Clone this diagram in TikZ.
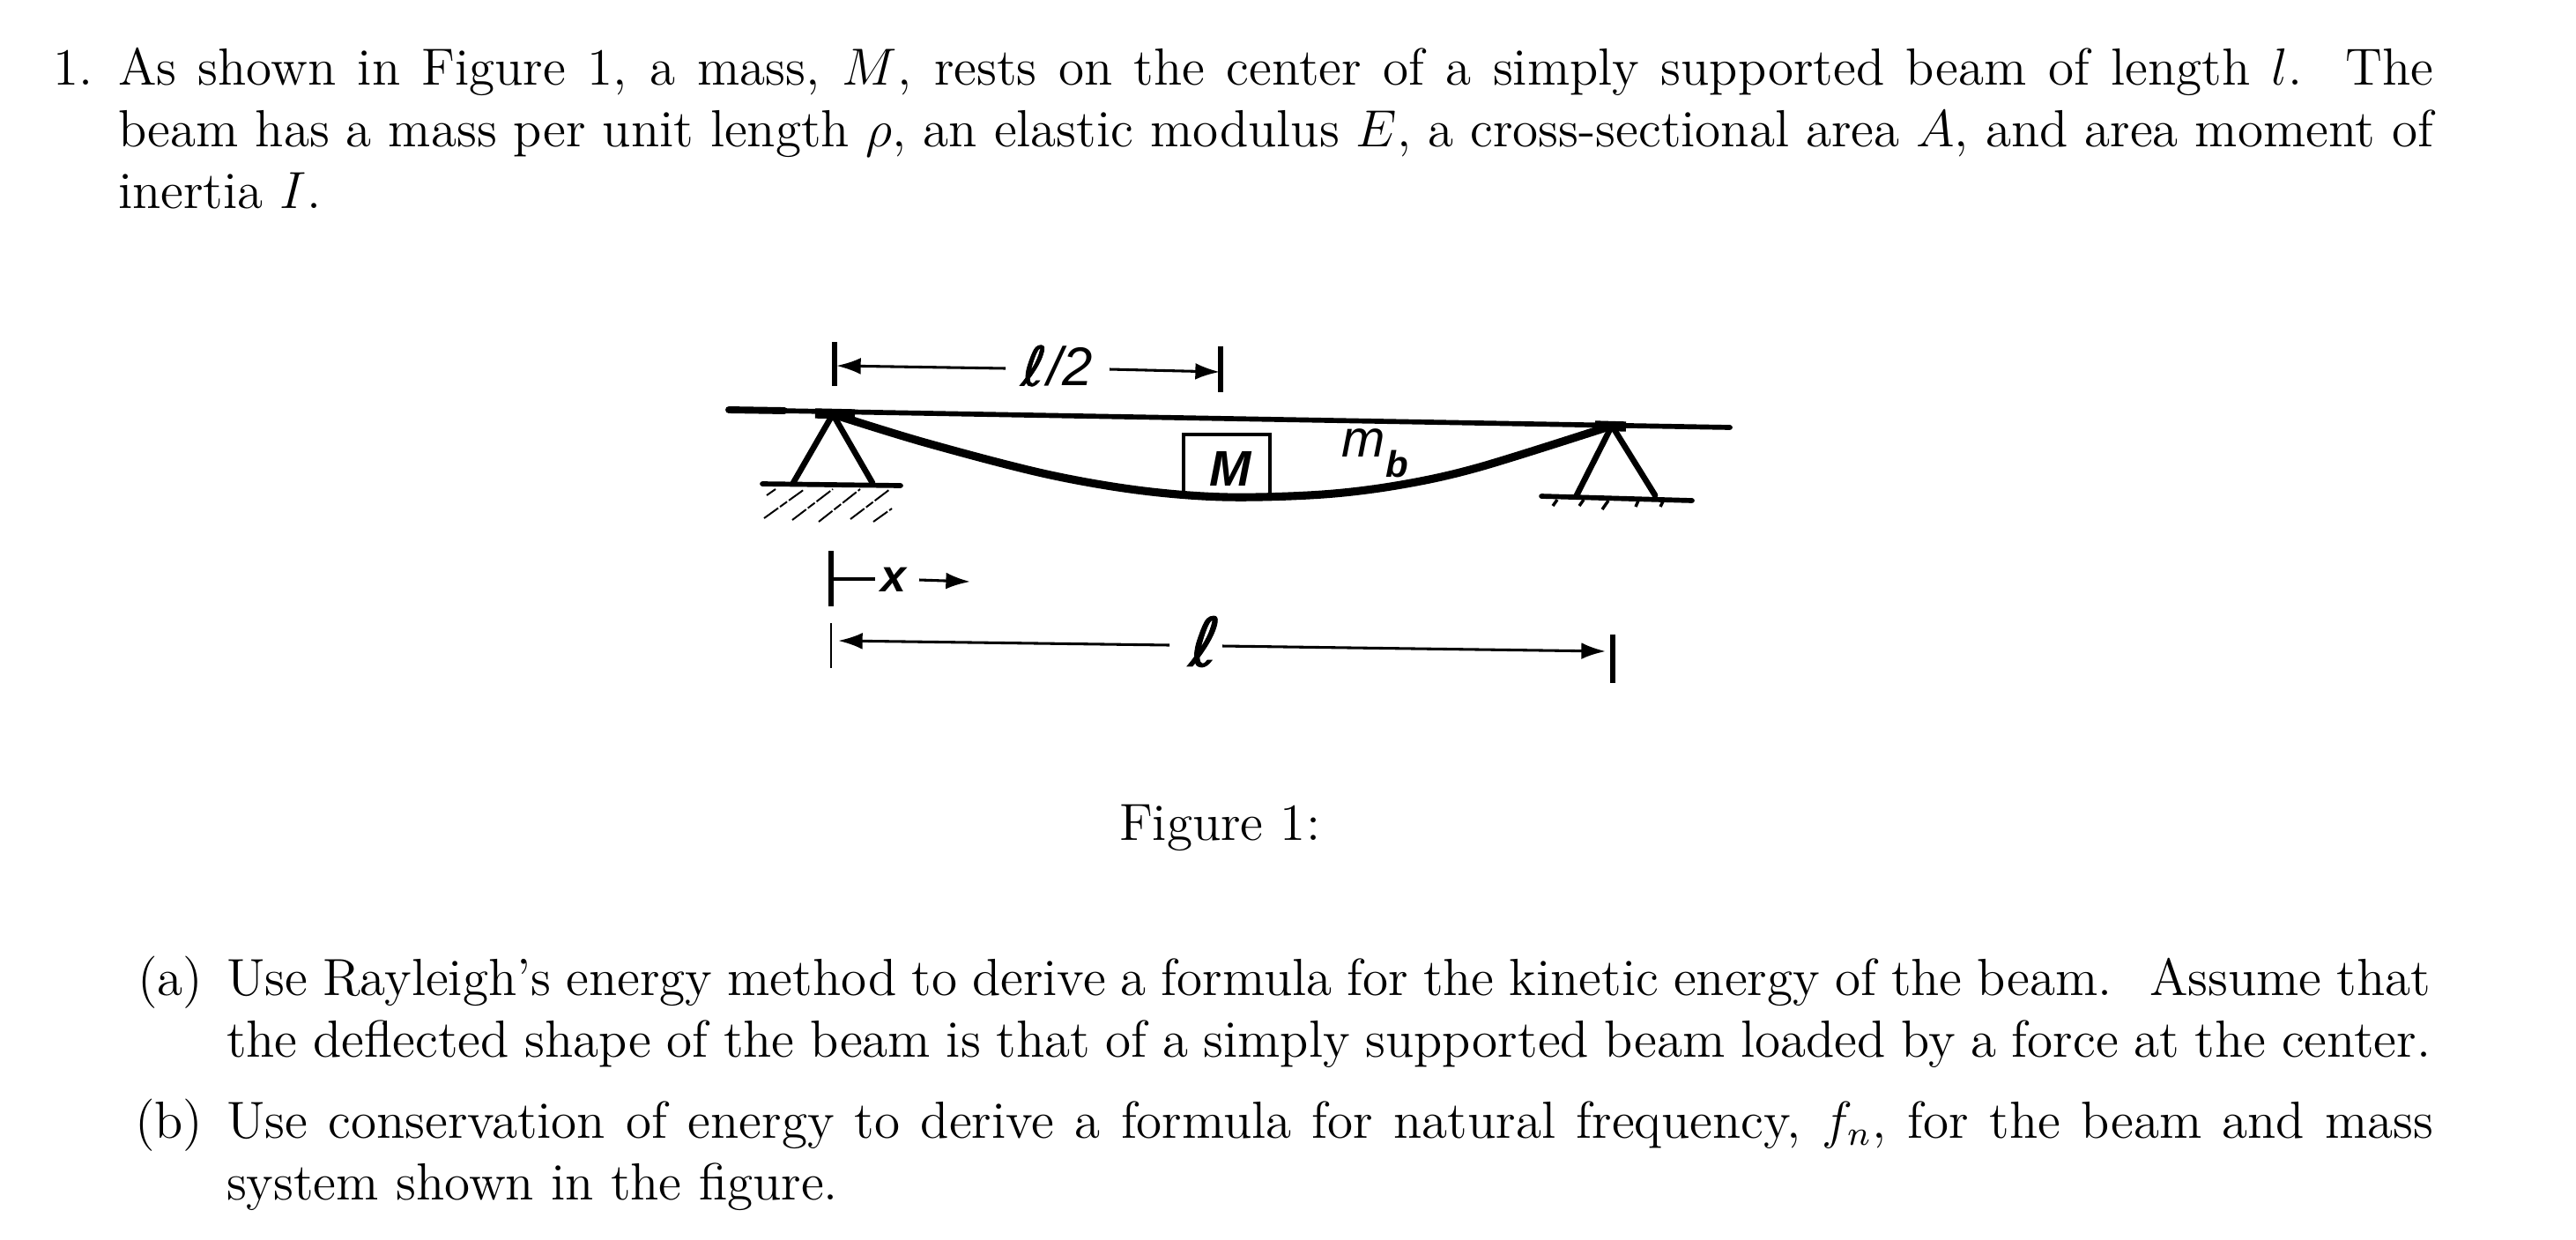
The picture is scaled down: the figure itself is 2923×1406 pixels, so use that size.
\documentclass[tikz,border=0pt]{standalone}
\usepackage{fontspec}
\usetikzlibrary{arrows.meta}
\newfontfamily\handfont{Liberation Sans}
\newfontfamily\ellfont[FakeBold=1.2,FakeSlant=0.12]{DejaVu Sans}
\tikzset{
  x=0.2025pt,y=-0.2025pt,
  txt/.style={anchor=base west,inner sep=0pt,outer sep=0pt,font=\fontsize{12}{14.5}\selectfont},
  hand/.style={inner sep=0pt,outer sep=0pt},
  beam/.style={line width=1.15pt,line cap=round},
  defl/.style={line width=1.85pt,line cap=round,line join=round},
  support/.style={line width=1.35pt,line cap=round,line join=round},
  ground/.style={line width=1.15pt,line cap=round},
  hatch/.style={line width=0.4pt,dash pattern=on 4pt off .5pt on 2pt off .5pt},
  tick/.style={line width=1.05pt},
  thintick/.style={line width=0.35pt},
  dim/.style={line width=0.62pt,-{Latex[length=5.6pt,width=3.8pt]}},
}
\newcommand{\fitline}[2]{\makebox[#1][s]{#2}}
\begin{document}
\begin{tikzpicture}
\useasboundingbox (0,0) rectangle (2923,1406);
% text
\node[txt] (n1) at (60,96) {1.};
\node[txt] (l1) at (134,96) {\fitline{532pt}{As shown in Figure 1, a mass, $M$, rests on the center of a simply supported beam of length $l$.\ \ The}};
\node[txt] (l2) at (134,166) {\fitline{532pt}{beam has a mass per unit length $\rho$, an elastic modulus $E$, a cross-sectional area $A$, and area moment of}};
\node[txt] (l3) at (134,236) {inertia $I$.};
\node[txt] (cap) at (1270,953) {Figure 1:};
\node[txt] (a0) at (156,1129) {(a)};
\node[txt] (a1) at (257,1129) {\fitline{506.5pt}{Use Rayleigh’s energy method to derive a formula for the kinetic energy of the beam. \ Assume that}};
\node[txt] (a2) at (257,1199) {\fitline{506.5pt}{the deflected shape of the beam is that of a simply supported beam loaded by a force at the center.}};
\node[txt] (b0) at (153,1291) {(b)};
\node[txt] (b1) at (257,1291) {\fitline{507.2pt}{Use conservation of energy to derive a formula for natural frequency, $f_n$, for the beam and mass}};
\node[txt] (b2) at (257,1361) {system shown in the figure.};
% beam
\coordinate (bl) at (827,465);
\coordinate (br) at (1963,485);
\draw[beam] (bl) -- (br);
\draw[line width=1.6pt,line cap=round] (bl) -- (890,466);
\draw[line width=2.3pt] (925,469) -- (970,470);
\draw[line width=2.3pt] (1810,483) -- (1845,484);
% left support
\coordinate (sl) at (945,470);
\coordinate (slL) at (900,548);
\coordinate (slR) at (990,548);
\coordinate (gl1) at (865,549);
\coordinate (gl2) at (1022,551);
\draw[support] (slL) -- (sl) -- (slR);
\draw[ground] (gl1) -- (gl2);
\foreach \xa/\ya/\xb/\yb in {867/588/913/555,899/590/945/555,929/592/976/555,965/589/1010/555,991/592/1012/577,870/562/880/555}
  \draw[hatch] (\xa,\ya) -- (\xb,\yb);
% right support
\coordinate (sr) at (1829,483);
\coordinate (srL) at (1789,562);
\coordinate (srR) at (1878,562);
\coordinate (gr1) at (1749,563);
\coordinate (gr2) at (1920,568);
\draw[support] (srL) -- (sr) -- (srR);
\draw[ground] (gr1) -- (gr2);
\foreach \xa/\ya/\xb/\yb in {1762/574/1767/567,1792/574/1797/567,1818/578/1825/568,1856/575/1859/568,1884/575/1887/569}
  \draw[line width=.7pt] (\xa,\ya) -- (\xb,\yb);
% deflected beam
\draw[defl] plot[smooth,tension=.55] coordinates {(sl) (1049,502) (1183,537) (1290,556) (1390,564) (1501,561) (1590,550) (1679,530) (sr)};
% mass
\draw[line width=.95pt] (1343,560) -- (1343,493) -- (1441,493) -- (1441,562);
\node[hand,font=\handfont\itshape\bfseries\fontsize{11.5}{11.5}\selectfont] (M) at (1396,532) {M};
% mb
\node[hand,font=\handfont\itshape\fontsize{12}{12}\selectfont] (mlab) at (1547,503) {m};
\node[hand,font=\handfont\itshape\bfseries\fontsize{8.5}{8.5}\selectfont] (blab) at (1585,526) {b};
% l/2 dimension
\coordinate (t1a) at (947,388); \coordinate (t1b) at (947,438);
\coordinate (t2a) at (1385,393); \coordinate (t2b) at (1385,445);
\draw[tick] (t1a) -- (t1b);
\draw[tick] (t2a) -- (t2b);
\node[hand] (lh) at (1199,415) {\fontsize{12.5}{12.5}\selectfont{\ellfont ℓ}\kern1pt{\handfont\itshape /2}};
\coordinate (ah1) at (949,415);
\coordinate (ah2) at (1384,422);
\draw[dim] (1141,418) -- (ah1);
\draw[dim] (1259,419) -- (ah2);
% x dimension
\coordinate (t3a) at (943,625); \coordinate (t3b) at (943,688);
\draw[tick] (t3a) -- (t3b);
\node[hand,font=\handfont\itshape\bfseries\fontsize{10.5}{10.5}\selectfont] (xlab) at (1014,658) {x};
\draw[line width=.8pt] (943,657) -- (993,657);
\coordinate (ah3) at (1101,660);
\draw[dim] (1043,658) -- (ah3);
% l dimension
\coordinate (t4a) at (943,707); \coordinate (t4b) at (943,758);
\coordinate (t5a) at (1830,720); \coordinate (t5b) at (1830,775);
\draw[thintick] (t4a) -- (t4b);
\draw[tick] (t5a) -- (t5b);
\node[hand] (lf) at (1364,728) {\fontsize{15.5}{15.5}\selectfont{\ellfont ℓ}};
\coordinate (ah4) at (951,727);
\coordinate (ah5) at (1822,739);
\draw[dim] (1327,732) -- (ah4);
\draw[dim] (1387,733) -- (ah5);
\end{tikzpicture}
\end{document}
